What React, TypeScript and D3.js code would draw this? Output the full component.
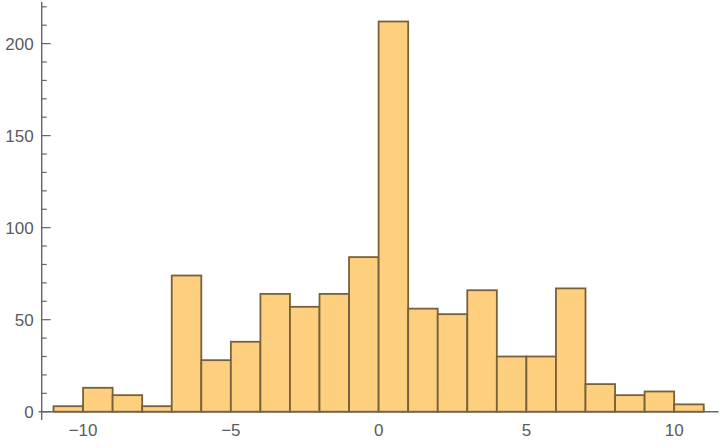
import * as d3 from 'd3';
import React from 'react';

// histogram bins: [binStart, binStart + 1)
const binStarts = [-11, -10, -9, -8, -7, -6, -5, -4, -3, -2, -1, 0, 1, 2, 3, 4, 5, 6, 7, 8, 9, 10];
const counts = [3, 13, 9, 3, 74, 28, 38, 64, 57, 64, 84, 212, 56, 53, 66, 30, 30, 67, 15, 9, 11, 4];
const xTickLabels = [-10, -5, 0, 5, 10];
const yTickLabels = [0, 50, 100, 150, 200];

const W = 722;
const H = 448;

const FILL = '#fdcf7f';
const EDGE = '#78613a';
const AXIS = '#666666';
const TEXT = '#5a5a5a';

export default function App() {
    const x = d3.scaleLinear().domain([-11.4, 11.5]).range([41.7, 718.5]);
    const y = d3.scaleLinear().domain([-4.5, 222.6]).range([420, 2]);

    const xMinor = d3.range(-11, 12, 1);
    const yMinor = d3.range(0, 221, 10);
    const fmt = (v: number) => (v < 0 ? '\u2212' + Math.abs(v) : String(v));

    return (
        <div style={{ position: 'absolute', left: 0, top: 0 }}>
            <svg width={W} height={H} style={{ display: 'block', fontFamily: '"Liberation Sans", Arial, sans-serif' }}>
                <rect width={W} height={H} fill="#fff" />

                {/* x ticks (behind bars) */}
                {xMinor.map((v) => (
                    <line
                        key={'xt' + v}
                        x1={x(v)}
                        x2={x(v)}
                        y1={y(0)}
                        y2={y(0) - (v % 5 === 0 ? 9 : 5)}
                        stroke={AXIS}
                        strokeWidth={1.2}
                    />
                ))}

                {/* bars */}
                {binStarts.map((b, i) => (
                    <rect
                        key={'bar' + b}
                        x={x(b)}
                        y={y(counts[i])}
                        width={x(b + 1) - x(b)}
                        height={y(0) - y(counts[i])}
                        fill={FILL}
                        stroke={EDGE}
                        strokeWidth={1.8}
                    />
                ))}

                {/* axes */}
                <line x1={x(-11.5)} x2={x(11.5)} y1={y(0)} y2={y(0)} stroke={AXIS} strokeWidth={1.4} />
                <line x1={x(-11.4)} x2={x(-11.4)} y1={y(-4.5)} y2={y(222.6)} stroke={AXIS} strokeWidth={1.4} />

                {/* y ticks */}
                {yMinor.map((v) => (
                    <line
                        key={'yt' + v}
                        x1={x(-11.4)}
                        x2={x(-11.4) + (v % 50 === 0 ? 9 : 5)}
                        y1={y(v)}
                        y2={y(v)}
                        stroke={AXIS}
                        strokeWidth={1.2}
                    />
                ))}

                {/* labels */}
                {yTickLabels.map((v) => (
                    <text
                        key={'yl' + v}
                        x={x(-11.4) - 8}
                        y={y(v)}
                        dy="0.36em"
                        textAnchor="end"
                        fontSize={17}
                        fill={TEXT}
                    >
                        {v}
                    </text>
                ))}
                {xTickLabels.map((v) => (
                    <text
                        key={'xl' + v}
                        x={x(v)}
                        y={y(0) + 24.5}
                        textAnchor="middle"
                        fontSize={17}
                        fill={TEXT}
                    >
                        {fmt(v)}
                    </text>
                ))}
            </svg>
        </div>
    );
}
